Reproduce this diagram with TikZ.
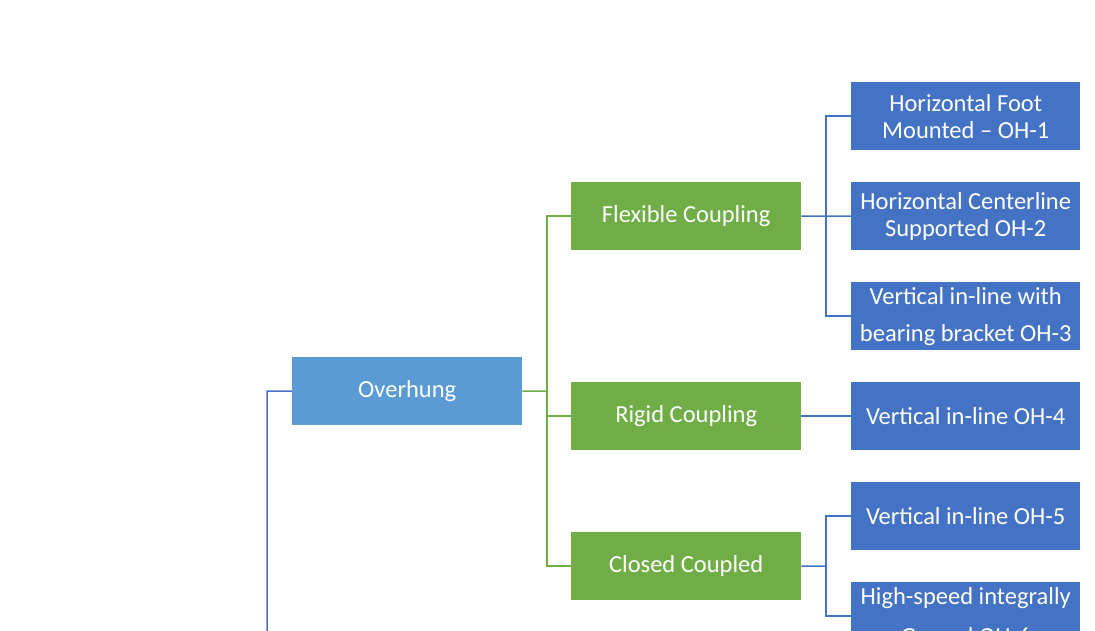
\documentclass[tikz,border=0pt]{standalone}
\usepackage{fontspec}
\setmainfont{Carlito}
\begin{document}
\begin{tikzpicture}[x=1pt,y=-1pt,
  box/.style={draw=none,minimum width=230pt,minimum height=68pt,anchor=north west,text=white,align=center,font=\fontsize{24.5}{27}\selectfont,inner sep=0pt},
  ov/.style={box,fill={rgb,255:red,91;green,155;blue,213}},
  gr/.style={box,fill={rgb,255:red,112;green,173;blue,71}},
  bl/.style={box,fill={rgb,255:red,68;green,114;blue,196},minimum width=229pt},
  gl/.style={draw={rgb,255:red,112;green,173;blue,71},line width=1.5pt},
  bll/.style={draw={rgb,255:red,68;green,114;blue,196},line width=1.5pt}]
\useasboundingbox (0,0) rectangle (1095,630);
\clip (0,0) rectangle (1095,630);
\fill[white] (0,0) rectangle (1095,630);
\node[ov] (ov) at (292,357) {Overhung};
\node[gr] (fc) at (571,182) {Flexible Coupling};
\node[gr] (rc) at (571,382) {Rigid Coupling};
\node[gr] (cc) at (571,532) {Closed Coupled};
\node[bl] (b1) at (851,82) {Horizontal Foot\\Mounted -- OH-1};
\node[bl] (b2) at (851,182) {Horizontal Centerline\\Supported OH-2};
\node[bl,font=\fontsize{24.5}{37}\selectfont] (b3) at (851,282) {Vertical in-line with\\bearing bracket OH-3};
\node[bl] (b4) at (851,382) {Vertical in-line OH-4};
\node[bl] (b5) at (851,482) {Vertical in-line OH-5};
\node[bl,font=\fontsize{24.5}{40}\selectfont] (b6) at (851,582) {High-speed integrally\\Geared OH-6};
\coordinate (bot) at (267,640);
\draw[bll] (ov.west) -- (267,391) -- (bot);
\draw[gl] (ov.east) -- (547,391);
\draw[gl] (fc.west) -| (547,391) |- (cc.west);
\draw[gl] (547,391) |- (rc.west);
\draw[bll] (fc.east) -- (826,216);
\draw[bll] (b1.west) -| (826,216) |- (b3.west);
\draw[bll] (826,216) -- (b2.west);
\draw[bll] (rc.east) -- (b4.west);
\draw[bll] (cc.east) -- (826,566);
\draw[bll] (b5.west) -| (826,566) |- (b6.west);
\end{tikzpicture}
\end{document}
